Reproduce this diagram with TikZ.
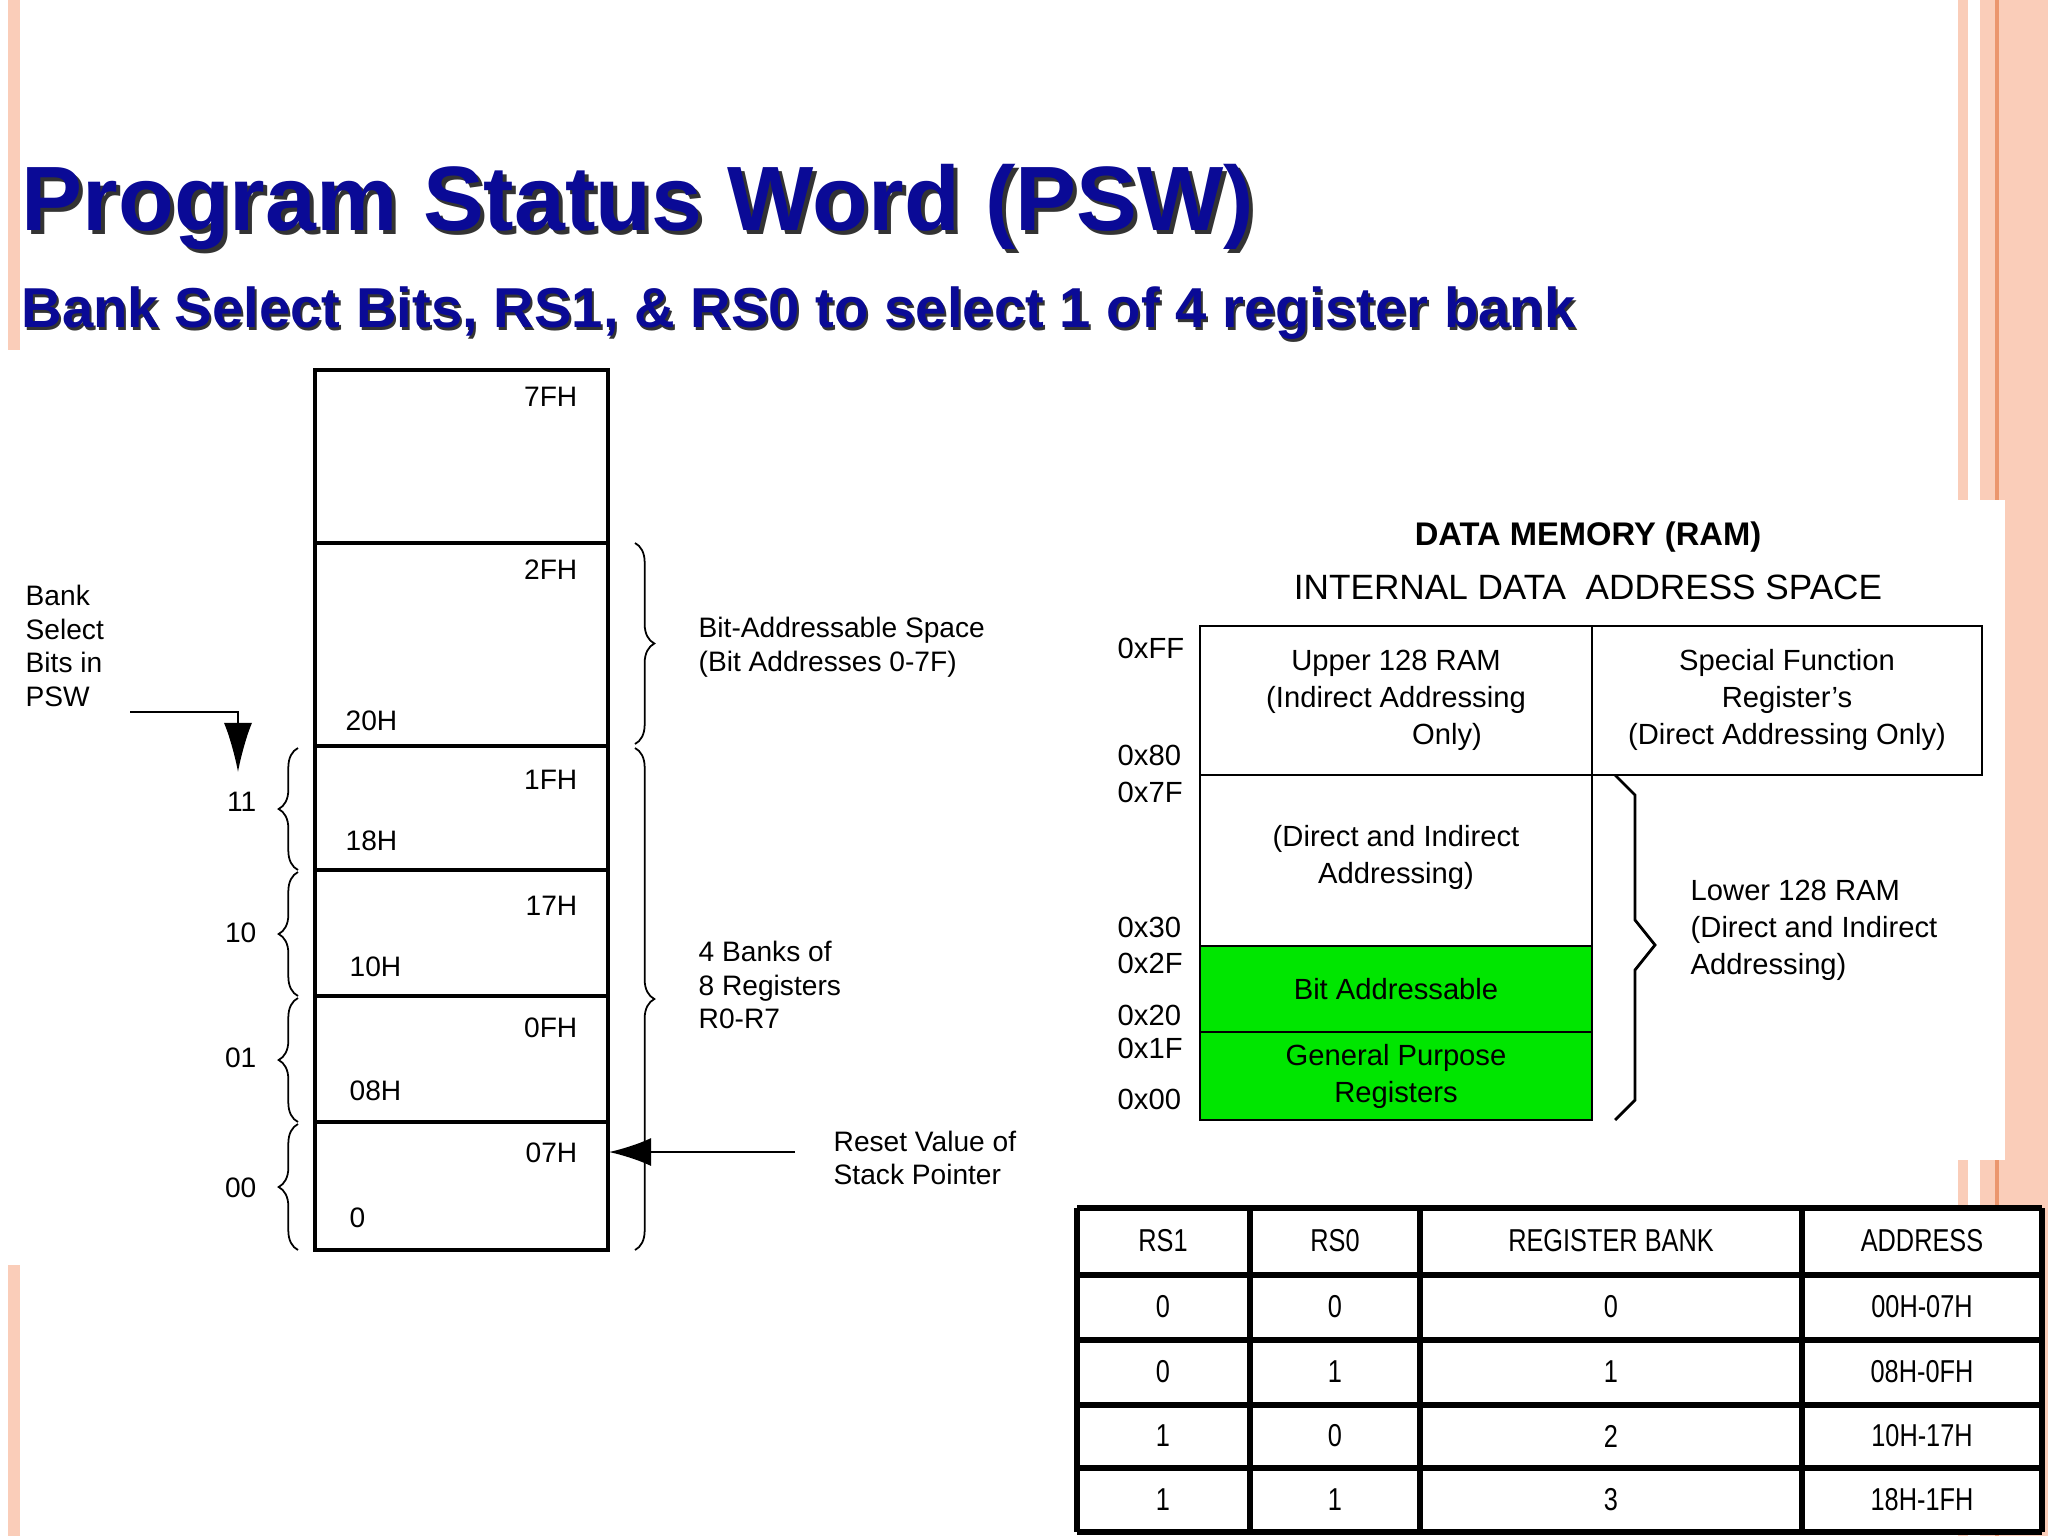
\documentclass[tikz,border=0pt]{standalone}
\usepackage{fontspec}
\setmainfont{Liberation Sans}
\usetikzlibrary{decorations.pathreplacing,arrows.meta}
\definecolor{peach}{RGB}{250,205,185}
\definecolor{peachd}{RGB}{235,150,110}
\definecolor{ttl}{RGB}{10,10,150}
\definecolor{grn}{RGB}{0,230,0}
\tikzset{
 lbl/.style={font=\fontsize{8}{9.6}\selectfont, inner sep=0pt},
 ram/.style={font=\fontsize{8.3}{10.5}\selectfont, inner sep=0pt, align=center},
 tb/.style={font=\fontsize{9}{10}\selectfont, inner sep=0pt, xscale=0.8},
 mbox/.style={draw, line width=1.4pt},
 brc/.style={decorate, decoration={brace, amplitude=5.5pt}, line width=0.5pt},
}
\begin{document}
\begin{tikzpicture}[x=0.01cm,y=-0.01cm]
\useasboundingbox (0,0) rectangle (2048,1536);
% decorations
\fill[peach] (8,0) rectangle (20,350);
\fill[peach] (8,1265) rectangle (20,1536);
\fill[peach] (1958,0) rectangle (1968,1536);
\fill[peach] (1980,0) rectangle (1995,1536);
\fill[peach] (1998,0) rectangle (2048,1536);
\draw[peachd,line width=1pt] (1997,0) -- (1997,1536);
\fill[white] (1060,500) rectangle (2005,1160);
% title
\node[anchor=base west,inner sep=0pt,text=black!80,font=\bfseries\fontsize{26}{30}\selectfont] at (25,234) {Program Status Word (PSW)};
\node[anchor=base west,inner sep=0pt,text=ttl,font=\bfseries\fontsize{26}{30}\selectfont] (title) at (21,230) {Program Status Word (PSW)};
\node[anchor=base west,inner sep=0pt,text=black!80,font=\bfseries\fontsize{16}{18}\selectfont] at (23,330) {Bank Select Bits, RS1, \& RS0 to select 1 of 4 register bank};
\node[anchor=base west,inner sep=0pt,text=ttl,font=\bfseries\fontsize{16}{18}\selectfont] (sub) at (21,327) {Bank Select Bits, RS1, \& RS0 to select 1 of 4 register bank};
% memory column
\draw[mbox] (315,370) rectangle (608,543);
\draw[mbox] (315,543) rectangle (608,746);
\draw[mbox] (315,746) rectangle (608,870);
\draw[mbox] (315,870) rectangle (608,996);
\draw[mbox] (315,996) rectangle (608,1122);
\draw[mbox] (315,1122) rectangle (608,1250);
\node[lbl,anchor=east] (h7f) at (578,397) {7FH};
\node[lbl,anchor=east] (h2f) at (578,570) {2FH};
\node[lbl,anchor=west] (h20) at (345,721) {20H};
\node[lbl,anchor=east] (h1f) at (578,780) {1FH};
\node[lbl,anchor=west] (h18) at (345,841) {18H};
\node[lbl,anchor=east] (h17) at (578,906) {17H};
\node[lbl,anchor=west] (h10) at (349,967) {10H};
\node[lbl,anchor=east] (h0f) at (578,1028) {0FH};
\node[lbl,anchor=west] (h08) at (349,1091) {08H};
\node[lbl,anchor=east] (h07) at (578,1153) {07H};
\node[lbl,anchor=west] (h0) at (349,1218) {0};
% left braces
\draw[brc] (298,870) -- (298,748);
\draw[brc] (298,996) -- (298,872);
\draw[brc] (298,1122) -- (298,998);
\draw[brc] (298,1250) -- (298,1124);
\node[lbl,anchor=east] (b11) at (257,802) {11};
\node[lbl,anchor=east] (b10) at (257,933) {10};
\node[lbl,anchor=east] (b01) at (257,1058) {01};
\node[lbl,anchor=east] (b00) at (257,1188) {00};
% right braces
\draw[brc] (635,543) -- (635,744);
\draw[brc] (635,748) -- (635,1250);
\node[lbl,anchor=west,align=left] (bas) at (698,647) {Bit-Addressable Space\\(Bit Addresses 0-7F)};
\node[lbl,anchor=west,align=left] (banks) at (698,985) {4 Banks of\\8 Registers\\R0-R7};
\node[lbl,anchor=west,align=left] (rst) at (833,1158) {Reset Value of\\Stack Pointer};
\coordinate (rstl) at (795,1152);
\draw[-{Latex[length=12pt,width=8pt]},line width=0.6pt] (rstl) -- (609,1152);
\node[lbl,anchor=west,align=left] (bsb) at (25,646) {Bank\\Select\\Bits in\\PSW};
\coordinate (bsa) at (130,712);
\coordinate (bsc) at (238,712);
\draw[-{Latex[length=14pt,width=8pt]},line width=0.6pt] (bsa) -- (bsc) -- (238,772);
% RAM
\node[ram,font=\bfseries\fontsize{9.3}{11}\selectfont] (dm) at (1588,537) {DATA MEMORY (RAM)};
\node[ram,font=\fontsize{10}{12}\selectfont] (ids) at (1588,587) {INTERNAL DATA\ \ ADDRESS SPACE};
\draw[line width=0.8pt] (1200,626) rectangle (1592,775);
\draw[line width=0.8pt] (1592,626) rectangle (1982,775);
\draw[line width=0.8pt] (1200,775) rectangle (1592,946);
\draw[line width=0.8pt,fill=grn] (1200,946) rectangle (1592,1032);
\draw[line width=0.8pt,fill=grn] (1200,1032) rectangle (1592,1120);
\node[ram] (u128) at (1396,700) {Upper 128 RAM\\(Indirect Addressing\\\hspace*{3.5em}Only)};
\node[ram] (sfr) at (1787,700) {Special Function\\Register's\\(Direct Addressing Only)};
\node[ram] (dia) at (1396,857) {(Direct and Indirect\\Addressing)};
\node[ram] (bitad) at (1396,989) {Bit Addressable};
\node[ram] (gpr) at (1396,1076) {General Purpose\\Registers};
\foreach \t/\yy in {0xFF/648,0x80/755,0x7F/792,0x30/927,0x2F/963,0x20/1015,0x1F/1048,0x00/1099}
  \node[ram,anchor=west] at (1117,\yy) {\t};
\draw[line width=0.8pt] (1615,775) -- (1635,795) -- (1635,920) -- (1655,945) -- (1635,970) -- (1635,1100) -- (1615,1120);
\node[ram,anchor=west,align=left] (l128) at (1690,930) {Lower 128 RAM\\(Direct and Indirect\\Addressing)};
% table
\fill[white] (1077,1208) rectangle (2042,1532);
\foreach \yy in {1208,1275,1340,1405,1468,1532} \draw[line width=1.8pt] (1077,\yy) -- (2042,\yy);
\foreach \xx in {1077,1250,1420,1802,2042} \draw[line width=1.8pt] (\xx,1208) -- (\xx,1532);
\node[tb] (hrs1) at (1163,1241) {RS1};
\node[tb] (hrs0) at (1335,1241) {RS0};
\node[tb] (hrb) at (1611,1241) {REGISTER BANK};
\node[tb] (had) at (1922,1241) {ADDRESS};
\foreach \a/\b/\c/\d/\yy in {0/0/0/00H-07H/1307,0/1/1/08H-0FH/1372,1/0/2/10H-17H/1436,1/1/3/18H-1FH/1500} {
  \node[tb] at (1163,\yy) {\a};
  \node[tb] at (1335,\yy) {\b};
  \node[tb] at (1611,\yy) {\c};
  \node[tb] at (1922,\yy) {\d};
}
\end{tikzpicture}
\end{document}
